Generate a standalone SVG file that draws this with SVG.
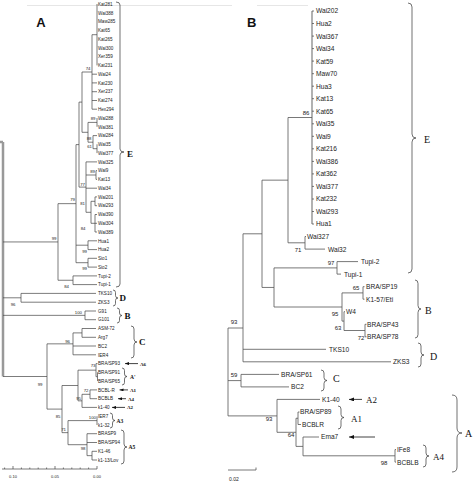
<svg xmlns="http://www.w3.org/2000/svg" width="474" height="482" viewBox="0 0 474 482">
<style>
.la{font-family:"Liberation Sans",Arial,sans-serif;font-size:4.6px;fill:#222}
.lb{font-family:"Liberation Sans",Arial,sans-serif;font-size:6.6px;fill:#222}
.ba{font-family:"Liberation Sans",Arial,sans-serif;font-size:4.3px;fill:#222;text-anchor:end}
.bb{font-family:"Liberation Sans",Arial,sans-serif;font-size:6px;fill:#222;text-anchor:middle}
.ca{font-family:"Liberation Serif","Times New Roman",serif;font-weight:bold;fill:#111}
.cb{font-family:"Liberation Serif","Times New Roman",serif;fill:#111}
.ttl{font-family:"Liberation Sans",Arial,sans-serif;font-weight:bold;font-size:13px;fill:#111}
.ta{fill:none;stroke:#444;stroke-width:0.7}
.tb{fill:none;stroke:#555;stroke-width:0.8}
.root{fill:none;stroke:#999;stroke-width:2.5}
.br{fill:none;stroke:#333;stroke-width:0.7}
.arr{fill:none;stroke:#111;stroke-width:0.8}
.faint{fill:none;stroke:#e0e0e0;stroke-width:0.8}
</style>
<defs>
<marker id="ha" markerUnits="userSpaceOnUse" markerWidth="4" markerHeight="3" refX="4" refY="1.5" orient="auto"><path d="M0,0L4,1.5L0,3z" fill="#111"/></marker>
<marker id="hb" markerUnits="userSpaceOnUse" markerWidth="5" markerHeight="4" refX="5" refY="2" orient="auto"><path d="M0,0L5,2L0,4z" fill="#111"/></marker>
</defs>
<path class="faint" d="M27 5.5H232M257 5.5H308"/>
<text class="ttl" x="36.3" y="26.7">A</text>
<text class="ttl" x="247" y="26.7">B</text>

<g id="connectors">
<g id="treeA">
<path class="root" d="M3 142V376.5M0 142H3"/>
<path class="ta" d="M97 4V65.4M92 34.7H97M92 34.7V109.2M92 74.2H97M92 82.9H97M92 91.7H97M92 100.5H97M92 109.2H97M82 72H92
M97 118V126.8M88 122.4H97M97 144.3V153.1M93 148.7H97M93 135.6V148.7M93 135.6H97M88 142.2H93M88 122.4V142.2M82 132.3H88M82 72V132.3M79 102.1H82
M96 170.6V179.4M96 170.6H97M96 179.4H97M86 175H96M95 196.9V205.7M95 196.9H97M95 205.7H97M91 201.3H95M95 214.5V232M95 214.5H97M95 223.3H97M95 232H97M91 223.3H95M91 201.3V223.3M86 212.3H91
M86 161.9V212.3M86 161.9H97M86 188.2H97M79 187.1H86M79 102.1V187.1M76 144.6H79
M88 240.8V249.6M88 240.8H97M88 249.6H97M76 245.2H88M88 258.3V267.1M88 258.3H97M88 267.1H97M76 262.7H88M76 144.6V262.7M58 203.65H76
M73 275.9V284.6M73 275.9H97M73 284.6H97M58 280.25H73M58 203.65V280.25M3 241.95H58
M21 293.4V302.2M21 293.4H96M21 302.2H96M3 297.8H21
M85 311V319.7M85 311H96M85 319.7H96M3 315.35H85
M82 328.5V337.3M82 328.5H96M82 337.3H96M73 332.9H82M73 332.9V354.8M73 346H96M73 354.8H96M47 343.85H73
M97.5 372.3V381.1M96 376.7H97.5M96 363.6V376.7M96 363.6H97.5M78 370.15H96
M90 389.9V398.7M90 389.9H97M90 398.7H97M82 394.3H90M82 394.3V407.4M82 407.4H97M78 400.85H82M78 370.15V400.85M62 385.5H78
M97 416.2V425M68 420.6H97M92 451.3V460M92 451.3H97M92 460H97M87 455.65H92M87 433.7V455.65M87 433.7H97M87 442.5H97M68 444.7H87
M68 420.6V444.7M62 432.65H68M62 385.5V432.65M47 409.1H62M47 343.85V409.1M3 376.5H47"/>
<path class="ta" d="M2 469H97M13 469V466M55 469V466M97 469V466M4.6 469V467.5M21.4 469V467.5M29.8 469V467.5M38.2 469V467.5M46.6 469V467.5M63.4 469V467.5M71.8 469V467.5M80.2 469V467.5M88.6 469V467.5"/>
</g>
<g id="treeB">
<path class="tb" d="M312 11V224" style="stroke:#888;stroke-width:1.3"/>
<path class="tb" d="M312 11H314M312 23.5H314M312 36.1H314M312 48.6H314M312 61.1H314M312 73.7H314M312 86.2H314M312 98.7H314M312 111.2H314M312 123.8H314M312 136.3H314M312 148.8H314M312 161.4H314M312 173.9H314M312 186.4H314M312 199H314M312 211.5H314M312 224H314
M288 117.5H312M305 236.5V249.1M305 236.5H306M305 249.1H325M288 242.8H305M288 117.5V242.8M262 180.15H288
M337 261.6V274.1M337 261.6H358M337 274.1H341M274 267.9H337
M363 286.7V299.2M363 286.7H364.5M363 299.2H364.5M342 292.9H363M365 324.3V336.8M365 324.3H366.5M365 336.8H366.5M344 330.5H365
M344 311.7V330.5M344 311.7H345M342 321.1H344M342 292.9V321.1M274 307H342M274 267.9V307M262 287.45H274M262 180.15V287.45M243 233.8H262
M243 233.8V361.8M243 349.3H326M243 361.8H391M228 328H243
M241 374.4V386.9M241 374.4H279M241 386.9H289M228 380.6H241
M298 412V424.5M298 412H299.5M298 424.5H301M296 418.25H298M395 449.55V462.1M395 449.55H396M395 462.1H396M303 455.8H395M303 437V455.8M303 437H319M296 446.4H303
M296 418.25V446.4M277 432.3H296M277 399.4V432.3M277 399.4H320M228 415.9H277M228 328V415.9
M228 470H256M256 467.5V470"/>
</g>
<g id="brackets">
<path class="br" d="M116 2Q120 2 120 5L120 149Q120 152 124 152Q120 152 120 155L120 284Q120 287 116 287"/>
<path class="br" d="M113 290Q115.5 290 115.5 292.5L115.5 295.5Q115.5 298 118 298Q115.5 298 115.5 300.5L115.5 303.5Q115.5 306 113 306"/>
<path class="br" d="M117 308Q119.5 308 119.5 310.5L119.5 313Q119.5 315.5 122 315.5Q119.5 315.5 119.5 318L119.5 320.5Q119.5 323 117 323"/>
<path class="br" d="M131 326Q134 326 134 329L134 339Q134 342 137 342Q134 342 134 345L134 355Q134 358 131 358"/>
<path class="br" d="M122 368Q124.5 368 124.5 370.5L124.5 374Q124.5 376.5 127 376.5Q124.5 376.5 124.5 379L124.5 382.5Q124.5 385 122 385"/>
<path class="br" d="M110 413Q112.5 413 112.5 415.5L112.5 418Q112.5 420.5 115 420.5Q112.5 420.5 112.5 423L112.5 425.5Q112.5 428 110 428"/>
<path class="br" d="M121 430Q124 430 124 433L124 444Q124 447 127 447Q124 447 124 450L124 461Q124 464 121 464"/>
<path class="br" d="M408 3Q412 3 412 7L412 134Q412 138 416 138Q412 138 412 142L412 269Q412 273 408 273"/>
<path class="br" d="M415 280Q418 280 418 283.5L418 305.5Q418 309 421 309Q418 309 418 312.5L418 334.5Q418 338 415 338"/>
<path class="br" d="M418 343Q421 343 421 346L421 352Q421 355 424 355Q421 355 421 358L421 364Q421 367 418 367"/>
<path class="br" d="M321 370Q324 370 324 373L324 377.5Q324 380.5 327 380.5Q324 380.5 324 383.5L324 388Q324 391 321 391"/>
<path class="br" d="M338 406Q341 406 341 409L341 414.5Q341 417.5 344 417.5Q341 417.5 341 420.5L341 426Q341 429 338 429"/>
<path class="br" d="M423 445Q426 445 426 448L426 453Q426 456 429 456Q426 456 426 459L426 464Q426 467 423 467"/>
<path class="br" d="M452 395Q457 395 457 400L457 428Q457 433 462 433Q457 433 457 438L457 467Q457 472 452 472"/>
</g>
<g id="arrows">
<path class="arr" d="M138 363.6H125" marker-end="url(#ha)"/>
<path class="arr" d="M128 389.9H119.5" marker-end="url(#ha)"/>
<path class="arr" d="M126 398.7H118" marker-end="url(#ha)"/>
<path class="arr" d="M125 407.4H112" marker-end="url(#ha)"/>
<path class="arr" d="M362 399.4H349" marker-end="url(#hb)"/>
<path class="arr" d="M375 437H349" marker-end="url(#hb)"/>
</g>
</g>

<g id="bootstrapA">
<text class="ba" x="90.5" y="70">74</text>
<text class="ba" x="95.5" y="120">89</text>
<text class="ba" x="91.5" y="140">88</text>
<text class="ba" x="92" y="148">61</text>
<text class="ba" x="95" y="172.5">89</text>
<text class="ba" x="85" y="185.5">77</text>
<text class="ba" x="75" y="201">79</text>
<text class="ba" x="85" y="204.5">81</text>
<text class="ba" x="85.5" y="229.5">84</text>
<text class="ba" x="56.5" y="239.5">99</text>
<text class="ba" x="87" y="252.5">99</text>
<text class="ba" x="87" y="269.5">99</text>
<text class="ba" x="69" y="287.5">84</text>
<text class="ba" x="15.5" y="305.5">96</text>
<text class="ba" x="82" y="313.5">100</text>
<text class="ba" x="70" y="342.5">96</text>
<text class="ba" x="95.5" y="367">73</text>
<text class="ba" x="88.5" y="392">72</text>
<text class="ba" x="81" y="399.5">95</text>
<text class="ba" x="42.5" y="385.5">99</text>
<text class="ba" x="96" y="419">100</text>
<text class="ba" x="60.5" y="417.5">85</text>
<text class="ba" x="66" y="431">71</text>
<text class="ba" x="85.5" y="449.5">98</text>
<text class="la" x="13" y="478" style="font-size:4px" text-anchor="middle">0.10</text>
<text class="la" x="55" y="478" style="font-size:4px" text-anchor="middle">0.05</text>
<text class="la" x="97" y="478" style="font-size:4px" text-anchor="middle">0.00</text>
</g>
<g id="bootstrapB">
<text class="bb" x="306" y="115">86</text>
<text class="bb" x="298" y="252">71</text>
<text class="bb" x="331" y="265">97</text>
<text class="bb" x="356" y="290">65</text>
<text class="bb" x="335" y="316">95</text>
<text class="bb" x="338" y="330">63</text>
<text class="bb" x="361" y="340">72</text>
<text class="bb" x="234" y="324">93</text>
<text class="bb" x="234" y="377">59</text>
<text class="bb" x="269" y="421">93</text>
<text class="bb" x="291" y="437">64</text>
<text class="bb" x="384" y="465">98</text>
<text class="lb" x="229" y="480.5" style="font-size:5px">0.02</text>
</g>

<g id="cladeLabels">
<text class="ca" x="127" y="157" font-size="9">E</text>
<text class="ca" x="119.5" y="301" font-size="9">D</text>
<text class="ca" x="124.5" y="318.5" font-size="9">B</text>
<text class="ca" x="139" y="345" font-size="9">C</text>
<text class="ca" x="140" y="366" font-size="5">A6</text>
<text class="ca" x="130" y="379" font-size="5.5">A'</text>
<text class="ca" x="130" y="391.7" font-size="5">A1</text>
<text class="ca" x="128" y="400.5" font-size="5">A4</text>
<text class="ca" x="127" y="409.3" font-size="5">A2</text>
<text class="ca" x="116.5" y="422.5" font-size="5.5">A3</text>
<text class="ca" x="128.5" y="449" font-size="5.5">A5</text>
<text class="cb" x="424" y="142.5" font-size="10">E</text>
<text class="cb" x="425" y="313.5" font-size="10">B</text>
<text class="cb" x="430" y="359.5" font-size="10">D</text>
<text class="cb" x="333" y="382" font-size="10">C</text>
<text class="cb" x="366" y="403" font-size="9">A2</text>
<text class="cb" x="351" y="421.5" font-size="9">A1</text>
<text class="cb" x="433" y="459.5" font-size="9">A4</text>
<text class="cb" x="465" y="437" font-size="10">A</text>
</g>

<g id="leavesA" class="la">
<g id="a-Kat281"><text x="98" y="5.7">Kat281</text></g>
<g id="a-Wai388"><text x="98" y="14.5">Wai388</text></g>
<g id="a-Maw285"><text x="98" y="23.2">Maw285</text></g>
<g id="a-Kat65"><text x="98" y="32">Kat65</text></g>
<g id="a-Kat265"><text x="98" y="40.8">Kat265</text></g>
<g id="a-Wai300"><text x="98" y="49.6">Wai300</text></g>
<g id="a-Xer359"><text x="98" y="58.3">Xer359</text></g>
<g id="a-Kat231"><text x="98" y="67.1">Kat231</text></g>
<g id="a-Wai24"><text x="98" y="75.9">Wai24</text></g>
<g id="a-Kat230"><text x="98" y="84.6">Kat230</text></g>
<g id="a-Xer237"><text x="98" y="93.4">Xer237</text></g>
<g id="a-Kat274"><text x="98" y="102.2">Kat274</text></g>
<g id="a-Hex294"><text x="98" y="110.9">Hex294</text></g>
<g id="a-Wai288"><text x="98" y="119.7">Wai288</text></g>
<g id="a-Wai381"><text x="98" y="128.5">Wai381</text></g>
<g id="a-Wai284"><text x="98" y="137.3">Wai284</text></g>
<g id="a-Wai35"><text x="98" y="146">Wai35</text></g>
<g id="a-Wai377"><text x="98" y="154.8">Wai377</text></g>
<g id="a-Wai325"><text x="98" y="163.6">Wai325</text></g>
<g id="a-Wai9"><text x="98" y="172.3">Wai9</text></g>
<g id="a-Kat13"><text x="98" y="181.1">Kat13</text></g>
<g id="a-Wai34"><text x="98" y="189.9">Wai34</text></g>
<g id="a-Wai201"><text x="98" y="198.6">Wai201</text></g>
<g id="a-Wai293"><text x="98" y="207.4">Wai293</text></g>
<g id="a-Wai390"><text x="98" y="216.2">Wai390</text></g>
<g id="a-Wai304"><text x="98" y="225">Wai304</text></g>
<g id="a-Wai389"><text x="98" y="233.7">Wai389</text></g>
<g id="a-Hua1"><text x="98" y="242.5">Hua1</text></g>
<g id="a-Hua2"><text x="98" y="251.3">Hua2</text></g>
<g id="a-Sio1"><text x="98" y="260">Sio1</text></g>
<g id="a-Sio2"><text x="98" y="268.8">Sio2</text></g>
<g id="a-Tupi-2"><text x="98" y="277.6">Tupi-2</text></g>
<g id="a-Tupi-1"><text x="98" y="286.3">Tupi-1</text></g>
<g id="a-TKS10"><text x="98" y="295.1">TKS10</text></g>
<g id="a-ZKS3"><text x="98" y="303.9">ZKS3</text></g>
<g id="a-G91"><text x="98" y="312.7">G91</text></g>
<g id="a-G101"><text x="98" y="321.4">G101</text></g>
<g id="a-ASM-72"><text x="98" y="330.2">ASM-72</text></g>
<g id="a-Arg7"><text x="98" y="339">Arg7</text></g>
<g id="a-BC2"><text x="98" y="347.7">BC2</text></g>
<g id="a-IER4"><text x="98" y="356.5">IER4</text></g>
<g id="a-BRA-SP93"><text x="98" y="365.3">BRA/SP93</text></g>
<g id="a-BRA-SP91"><text x="98" y="374">BRA/SP91</text></g>
<g id="a-BRA-SP65"><text x="98" y="382.8">BRA/SP65</text></g>
<g id="a-BCBL-R"><text x="98" y="391.6">BCBL-R</text></g>
<g id="a-BCBLB"><text x="98" y="400.4">BCBLB</text></g>
<g id="a-k1-40"><text x="98" y="409.1">k1-40</text></g>
<g id="a-IER7"><text x="98" y="417.9">IER7</text></g>
<g id="a-k1-32"><text x="98" y="426.7">k1-32</text></g>
<g id="a-BRASP9"><text x="98" y="435.4">BRASP9</text></g>
<g id="a-BRA-SP94"><text x="98" y="444.2">BRA/SP94</text></g>
<g id="a-K1-46"><text x="98" y="453">K1-46</text></g>
<g id="a-k1-13-Lov"><text x="98" y="461.7">k1-13/Lov</text></g>
</g>

<g id="leavesB" class="lb">
<g id="b-Wai202"><text x="316" y="13.4">Wai202</text></g>
<g id="b-Hua2"><text x="316" y="25.9">Hua2</text></g>
<g id="b-Wai367"><text x="316" y="38.5">Wai367</text></g>
<g id="b-Wai34"><text x="316" y="51">Wai34</text></g>
<g id="b-Kat59"><text x="316" y="63.5">Kat59</text></g>
<g id="b-Maw70"><text x="316" y="76.1">Maw70</text></g>
<g id="b-Hua3"><text x="316" y="88.6">Hua3</text></g>
<g id="b-Kat13"><text x="316" y="101.1">Kat13</text></g>
<g id="b-Kat65"><text x="316" y="113.6">Kat65</text></g>
<g id="b-Wai35"><text x="316" y="126.2">Wai35</text></g>
<g id="b-Wai9"><text x="316" y="138.7">Wai9</text></g>
<g id="b-Kat216"><text x="316" y="151.2">Kat216</text></g>
<g id="b-Wai386"><text x="316" y="163.8">Wai386</text></g>
<g id="b-Kat362"><text x="316" y="176.3">Kat362</text></g>
<g id="b-Wai377"><text x="316" y="188.8">Wai377</text></g>
<g id="b-Kat232"><text x="316" y="201.4">Kat232</text></g>
<g id="b-Wai293"><text x="316" y="213.9">Wai293</text></g>
<g id="b-Hua1"><text x="316" y="226.4">Hua1</text></g>
<g id="b-Wai327"><text x="307" y="238.9">Wai327</text></g>
<g id="b-Wai32"><text x="328" y="251.5">Wai32</text></g>
<g id="b-Tupi-2"><text x="361" y="264">Tupi-2</text></g>
<g id="b-Tupi-1"><text x="344" y="276.5">Tupi-1</text></g>
<g id="b-BRA-SP19"><text x="366" y="289.1">BRA/SP19</text></g>
<g id="b-K1-57-Eti"><text x="366" y="301.6">K1-57/Eti</text></g>
<g id="b-W4"><text x="346" y="314.1">W4</text></g>
<g id="b-BRA-SP43"><text x="367" y="326.7">BRA/SP43</text></g>
<g id="b-BRA-SP78"><text x="367" y="339.2">BRA/SP78</text></g>
<g id="b-TKS10"><text x="329" y="351.7">TKS10</text></g>
<g id="b-ZKS3"><text x="393" y="364.2">ZKS3</text></g>
<g id="b-BRA-SP61"><text x="281" y="376.8">BRA/SP61</text></g>
<g id="b-BC2"><text x="291" y="389.3">BC2</text></g>
<g id="b-K1-40"><text x="322" y="401.8">K1-40</text></g>
<g id="b-BRA-SP89"><text x="300" y="414.4">BRA/SP89</text></g>
<g id="b-BCBLR"><text x="302" y="426.9">BCBLR</text></g>
<g id="b-Ema7"><text x="321" y="439.4">Ema7</text></g>
<g id="b-IFe8"><text x="397" y="452">IFe8</text></g>
<g id="b-BCBLB"><text x="397" y="464.5">BCBLB</text></g>
</g>
</svg>
